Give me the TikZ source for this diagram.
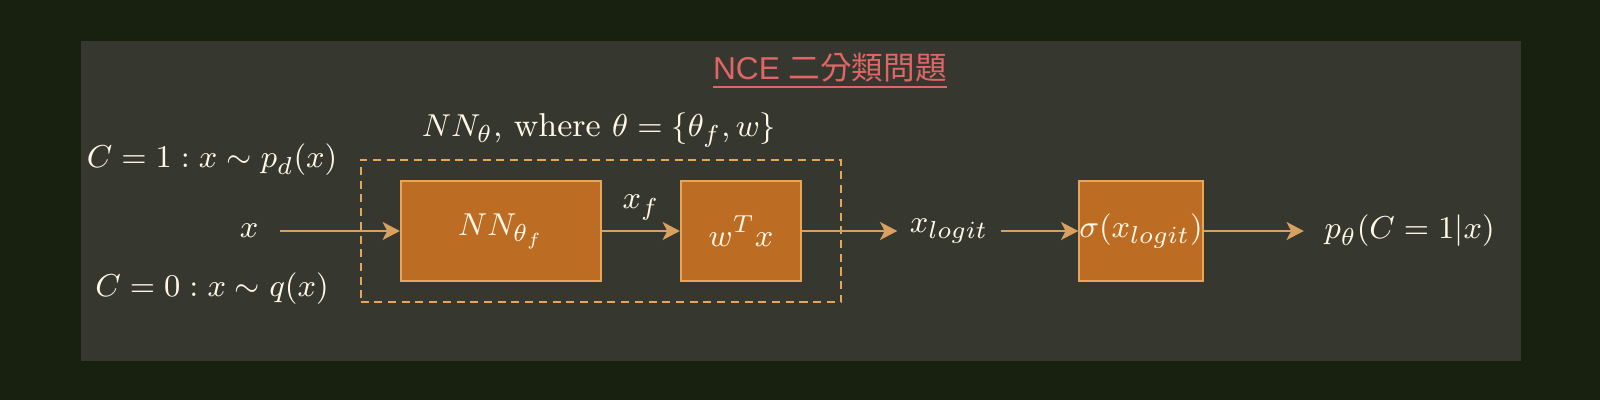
\documentclass[tikz,border=0pt]{standalone}
\usepackage{fontspec}
\newfontfamily\titlefont{Liberation Sans}
\newfontfamily\cjk{Noto Sans CJK TC}
\usepackage{xcolor}
\usetikzlibrary{positioning, arrows.meta, fit}
\definecolor{bgdark}{HTML}{182010}
\definecolor{panelgray}{HTML}{363830}
\definecolor{boxfill}{HTML}{BD6C24}
\definecolor{boxedge}{HTML}{E6A65A}
\definecolor{arrowcol}{HTML}{D9A05F}
\definecolor{cream}{HTML}{FFF8E6}
\definecolor{titlered}{HTML}{E06666}
\tikzset{
    block/.style={rectangle, draw=boxedge, line width=0.62pt, fill=boxfill, text=cream, inner sep=0pt, minimum height=1.0cm, align=center, font=\fontsize{9.5}{11.5}\selectfont},
    lbl/.style={text=cream, inner sep=0pt, align=center},
    group/.style={rectangle, draw=boxedge, line width=0.56pt, dash pattern=on 2.3pt off 1.6pt},
    arrow/.style={-{Stealth[length=4.9pt, width=5.1pt, inset=1.3pt]}, draw=arrowcol, line width=0.62pt}
}

\begin{document}
\begin{tikzpicture}[x=0.01cm, y=-0.01cm, font=\fontsize{9.4}{11}\selectfont]
        % Background
        \useasboundingbox (0,0) rectangle (1600,400);
        \fill[bgdark] (0,0) rectangle (1600,400);
        \fill[panelgray] (81,41) rectangle (1521,361);

        % Title
        \node[text=titlered, inner sep=0pt, font=\fontsize{9}{11}\selectfont] (title) at (830,71) {\underline{\titlefont NCE \cjk 二分類問題}};

        % Inputs
        \node[lbl] (c1) at (212,160) {$C=1:x\sim p_d(x)$};
        \node[lbl, minimum width=0.61cm] (x) at (249,231) {$x$};
        \node[lbl] (c0) at (212,289) {$C=0:x\sim q(x)$};

        % Network
        \node[block, minimum width=2.0cm] (nn) at (501,231) {$NN_{\theta_f}$};
        \node[block, minimum width=1.2cm] (wx) at (741,231) {$w^T x$};
        \node[group, fit=(nn) (wx), inner xsep=0.393cm, inner ysep=0.199cm] (grp) {};
        \node[lbl] (theta) at (599,130) {$NN_\theta$, where $\theta=\{\theta_f, w\}$};

        % Outputs
        \node[lbl, minimum width=1.02cm] (logit) at (949,231) {$x_{logit}$};
        \node[block, minimum width=1.2cm] (sig) at (1141,231) {$\sigma(x_{logit})$};
        \node[lbl, right=1.0cm of sig, inner xsep=0.2cm] (out) {$p_\theta(C=1|x)$};

        % Arrows
        \draw[arrow] (x) -- (nn);
        \draw[arrow] (nn) -- node[lbl, midway, above=0.1cm] {$x_f$} (wx);
        \draw[arrow] (wx) -- (logit);
        \draw[arrow] (logit) -- (sig);
        \draw[arrow] (sig) -- (out);
    \end{tikzpicture}
\end{document}
